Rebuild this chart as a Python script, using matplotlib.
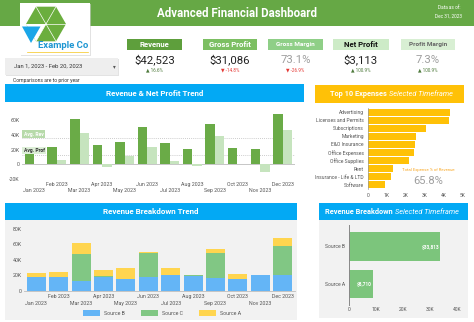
import matplotlib
matplotlib.use('Agg')
import matplotlib.pyplot as plt
from matplotlib.patches import Rectangle, Polygon
import numpy as np

plt.rcParams['font.family'] = ['Roboto', 'DejaVu Sans']

W, H = 474, 322

# ---------------- data ----------------
months = ['Jan 2023', 'Feb 2023', 'Mar 2023', 'Apr 2023', 'May 2023', 'Jun 2023',
          'Jul 2023', 'Aug 2023', 'Sep 2023', 'Oct 2023', 'Nov 2023', 'Dec 2023']
revenue = [23500, 24000, 61500, 26500, 30000, 50000, 29000, 21000, 54000, 22500, 21000, 68000]
net_profit = [1000, 5500, 42500, -3500, 11000, 24000, 4500, -2500, 38500, 500, -10500, 46500]
rev_ticks = [-20000, 0, 20000, 40000, 60000]
rev_tick_labels = ['-20K', '0', '20K', '40K', '60K']

source_b = [17500, 17500, 13500, 18500, 16000, 17500, 21000, 19500, 16500, 15000, 21000, 20500]
source_c = [0, 0, 34000, 500, 0, 32000, 0, 500, 33000, 0, 0, 37000]
source_a = [6000, 6500, 14000, 7500, 14000, 500, 8000, 1000, 4500, 7500, 0, 10500]
bd_ticks = [0, 20000, 40000, 60000, 80000]
bd_tick_labels = ['0', '20K', '40K', '60K', '80K']

expense_cats = ['Advertising', 'Licenses and Permits', 'Subscriptions', 'Marketing',
                'E&O Insurance', 'Office Expenses', 'Office Supplies', 'Rent',
                'Insurance - Life & LTD', 'Software']
expense_vals = [4330, 4250, 3030, 2540, 2470, 2400, 2140, 1330, 1210, 880]
exp_ticks = [0, 1000, 2000, 3000, 4000, 5000]
exp_tick_labels = ['0', '1K', '2K', '3K', '4K', '5K']

src_names = ['Source B', 'Source A']
src_vals = [33813, 8710]
src_labels = ['$33,813', '$8,710']
src_ticks = [0, 10000, 20000, 30000, 40000]
src_tick_labels = ['0', '10K', '20K', '30K', '40K']

kpi_names = ['Revenue', 'Gross Profit', 'Gross Margin', 'Net Profit', 'Profit Margin']
kpi_values = ['$42,523', '$31,086', '73.1%', '$3,113', '7.3%']
kpi_deltas = ['▲ 16.6%', '▼ -14.8%', '▼ -26.9%', '▲ 100.9%', '▲ 100.9%']
kpi_up = [True, False, False, True, True]

# ---------------- styles ----------------
HEADER_G = '#66A845'
BLUE = '#03A9F4'
AMBER = '#FFC107'
REV_G = '#6AAB47'
PROF_G = '#C6E4BE'
C_B = '#64B5F6'
C_C = '#81C784'
C_A = '#FFD54F'
PANEL = '#F2F2F2'
TICK_C = '#555555'

fig = plt.figure(figsize=(W / 100, H / 100), dpi=100)
fig.patch.set_facecolor('white')

ov = fig.add_axes([0, 0, 1, 1], zorder=0)
ov.set_xlim(0, W)
ov.set_ylim(H, 0)
ov.axis('off')


def px(x0, y0, x1, y1, **kw):
    return fig.add_axes([x0 / W, 1 - y1 / H, (x1 - x0) / W, (y1 - y0) / H], **kw)


def rect(x0, y0, x1, y1, color, **kw):
    ov.add_patch(Rectangle((x0, y0), x1 - x0, y1 - y0, facecolor=color,
                           edgecolor='none', **kw))


# header
rect(0, 0, W, 26, HEADER_G)
ov.text(237, 13, 'Advanced Financial Dashboard', color='white', fontsize=8.3,
        fontweight='bold', ha='center', va='center')
ov.text(449, 7, 'Data as of:', color='white', fontsize=3.4, ha='center', va='center')
ov.text(449, 16, 'Dec 31, 2023', color='white', fontsize=3.4, ha='center', va='center')

# logo
rect(21, 4, 91, 56, '#D0D0D0', alpha=0.6)
rect(20, 3, 90, 55, 'white')
cx, cy, R = 46, 24, 20
hexv = [(cx + R * np.cos(np.radians(a)), cy + R * np.sin(np.radians(a)))
        for a in range(0, 360, 60)]
ov.add_patch(Polygon(hexv, closed=True, facecolor='#6BAE3E', edgecolor='none'))
for v in hexv:
    ov.plot([cx, v[0]], [cy, v[1]], color='white', lw=0.5)
ov.add_patch(Polygon([hexv[2], hexv[3], (cx, cy)], closed=True, facecolor='white',
                     edgecolor='none'))
ov.add_patch(Polygon([(22, 26.5), (40.5, 26.5), (31, 43)], closed=True,
                     facecolor='#1AA6E8', edgecolor='none'))
ov.text(63, 45.5, 'Example Co', color='#1E96D2', fontsize=6.8, fontweight='bold',
        ha='center', va='center')
ov.plot([27, 88], [51.5, 51.5], color='#F5C518', lw=0.5)

# date range selector
rect(6, 59, 119, 76, '#D8D8D8', alpha=0.7)
rect(5, 58, 118, 75, '#EEEEEE')
ov.text(14, 66.5, 'Jan 1, 2023 - Feb 20, 2023', fontsize=4.2, color='#333333',
        va='center')
ov.text(114, 66.5, '▾', fontsize=4, color='#555555', va='center', ha='center')
ov.text(13, 80, 'Comparisons are to prior year', fontsize=3.6, color='#333333',
        va='center')

# KPI tiles
kpi_x = [(127, 182), (203, 257), (268, 323), (333, 389), (401, 455)]
kpi_bg = ['#5E9F3C', '#7CBF62', '#8FCF87', '#CDEBC7', '#D8EFD3']
kpi_tc = ['white', 'white', 'white', '#111111', '#666666']
kpi_fs = [5.6, 5.6, 4.6, 5.6, 4.6]
kpi_vc = ['#222222', '#222222', '#9E9E9E', '#222222', '#9E9E9E']
for i in range(5):
    x0, x1 = kpi_x[i]
    rect(x0, 39, x1, 50, kpi_bg[i])
    xc = (x0 + x1) / 2
    ov.text(xc, 44.7, kpi_names[i], color=kpi_tc[i], fontsize=kpi_fs[i],
            fontweight='bold', ha='center', va='center')
    ov.text(xc, 60, kpi_values[i], color=kpi_vc[i], fontsize=8.2,
            ha='center', va='center')
    ov.text(xc, 70, kpi_deltas[i], color='#4E7A3C' if kpi_up[i] else '#E53935',
            fontsize=3.3, ha='center', va='center')

# banners
rect(5, 84, 304, 102, BLUE)
ov.text(155, 93, 'Revenue & Net Profit Trend', color='white', fontsize=5.8,
        fontweight='bold', ha='center', va='center')
rect(315, 85, 464, 103, AMBER)
ov.text(389, 94, 'Top 10 Expenses ', color='white', fontsize=5.3,
        fontweight='bold', ha='right', va='center')
ov.text(389, 94, 'Selected Timeframe', color='white', fontsize=5.3,
        fontstyle='italic', ha='left', va='center')

rect(5, 203, 297, 220, BLUE)
ov.text(151, 211.5, 'Revenue Breakdown Trend', color='white', fontsize=5.8,
        fontweight='bold', ha='center', va='center')
rect(5, 220, 297, 320, PANEL)

rect(319, 203, 468, 220, BLUE)
ov.text(395, 211.5, 'Revenue Breakdown ', color='white', fontsize=5.3,
        fontweight='bold', ha='right', va='center')
ov.text(395, 211.5, 'Selected Timeframe', color='white', fontsize=5.3,
        fontstyle='italic', ha='left', va='center')
rect(319, 220, 468, 318, PANEL)

x = np.arange(len(months))

# ---------------- Revenue & Net Profit Trend ----------------
ax1 = px(22, 111, 295, 183, zorder=2)
ax1.patch.set_alpha(0)
ax1.bar(x - 0.21, revenue, 0.42, color=REV_G)
ax1.bar(x + 0.21, net_profit, 0.42, color=PROF_G)
ax1.axhline(0, color='#BDBDBD', lw=0.6, zorder=0)
avg_rev = np.mean(revenue)
avg_prof = np.mean(net_profit)
ax1.axhline(avg_rev, color='#BBBBBB', lw=0.6, ls=(0, (1, 1.5)), zorder=0)
ax1.axhline(avg_prof, color='#BBBBBB', lw=0.6, ls=(0, (1, 1.5)), zorder=0)
ax1.text(-0.48, avg_rev + 1500, 'Avg. Rev', fontsize=3.6, color='white',
         fontweight='bold', va='bottom', ha='left',
         bbox=dict(boxstyle='square,pad=0.25', fc='#B7DAAA', ec='none'))
ax1.text(-0.48, avg_prof + 2000, 'Avg. Prof', fontsize=3.6, color='#333333',
         fontweight='bold', va='bottom', ha='left',
         bbox=dict(boxstyle='square,pad=0.25', fc='#DDEFD7', ec='none'), zorder=3)
ax1.set_xlim(-0.55, 11.55)
ax1.set_ylim(-25000, 72000)
ax1.set_yticks(rev_ticks)
ax1.set_yticklabels(rev_tick_labels)
ax1.set_xticks([])
ax1.tick_params(axis='y', length=0, labelsize=3.8, labelcolor=TICK_C, pad=1.5)
for s in ax1.spines.values():
    s.set_visible(False)
for i, m in enumerate(months):
    yy = -35500 if i % 2 == 0 else -27000
    ax1.text(i, yy, m, fontsize=3.8, color=TICK_C, ha='center', va='center',
             clip_on=False)

# ---------------- Top 10 Expenses ----------------
ax2 = px(368, 108, 463, 189, zorder=2)
ax2.patch.set_alpha(0)
ypos = np.arange(len(expense_cats))[::-1]
ax2.barh(ypos, expense_vals, 0.8, color=AMBER)
ax2.set_xlim(0, 5000)
ax2.set_ylim(-0.55, 9.55)
ax2.set_yticks(ypos)
ax2.set_yticklabels(expense_cats)
ax2.set_xticks(exp_ticks)
ax2.set_xticklabels(exp_tick_labels)
ax2.tick_params(length=0, labelsize=3.6, labelcolor=TICK_C)
ax2.tick_params(axis='y', pad=3)
ax2.tick_params(axis='x', pad=3)
for k in ['top', 'right', 'bottom']:
    ax2.spines[k].set_visible(False)
ax2.spines['left'].set_color('#999999')
ax2.spines['left'].set_linewidth(0.5)
ov.text(428, 170, 'Total Expense % of Revenue', fontsize=3.1, color='#F9A825',
        ha='center', va='center')
ov.text(428, 180.5, '65.8%', fontsize=8, color='#9E9E9E', ha='center', va='center')

# ---------------- Revenue Breakdown Trend ----------------
ax3 = px(24, 225, 295, 291, zorder=2)
ax3.patch.set_alpha(0)
ax3.bar(x, source_b, 0.85, color=C_B, label='Source B')
ax3.bar(x, source_c, 0.85, bottom=source_b, color=C_C, label='Source C')
bot = np.array(source_b) + np.array(source_c)
ax3.bar(x, source_a, 0.85, bottom=bot, color=C_A, label='Source A')
ax3.set_xlim(-0.55, 11.55)
ax3.set_ylim(0, 85000)
ax3.set_yticks(bd_ticks)
ax3.set_yticklabels(bd_tick_labels)
ax3.set_xticks([])
ax3.tick_params(axis='y', length=0, labelsize=3.8, labelcolor=TICK_C, pad=1.5)
for k in ['top', 'right', 'left']:
    ax3.spines[k].set_visible(False)
ax3.spines['bottom'].set_color('#BDBDBD')
ax3.spines['bottom'].set_linewidth(0.6)
for i, m in enumerate(months):
    yy = -15500 if i % 2 == 0 else -6500
    ax3.text(i, yy, m, fontsize=3.8, color=TICK_C, ha='center', va='center',
             clip_on=False)
ax3.legend(loc='center', bbox_to_anchor=(0.51, -0.335), ncol=3, frameon=False,
           fontsize=3.8, handlelength=3.2, handleheight=1.2, columnspacing=3,
           handletextpad=0.8, labelcolor=TICK_C)

# ---------------- Revenue Breakdown Selected Timeframe ----------------
ax4 = px(349, 225, 457, 305, zorder=2)
ax4.patch.set_alpha(0)
spos = [1, 0]
ax4.barh(spos, src_vals, 0.77, color='#7CC57C')
for p, v, lab in zip(spos, src_vals, src_labels):
    ax4.text(v - 500, p, lab, fontsize=3.4, color='white', fontweight='bold',
             ha='right', va='center')
ax4.set_xlim(0, 40000)
ax4.set_ylim(-0.56, 1.57)
ax4.set_yticks(spos)
ax4.set_yticklabels(src_names)
ax4.set_xticks(src_ticks)
ax4.set_xticklabels(src_tick_labels)
ax4.tick_params(length=0, labelsize=3.6, labelcolor=TICK_C)
ax4.tick_params(axis='y', pad=3)
ax4.tick_params(axis='x', pad=1.5)
for k in ['top', 'right', 'bottom']:
    ax4.spines[k].set_visible(False)
ax4.spines['left'].set_color('#888888')
ax4.spines['left'].set_linewidth(0.7)

fig.savefig('out.png', dpi=100, facecolor='white')
